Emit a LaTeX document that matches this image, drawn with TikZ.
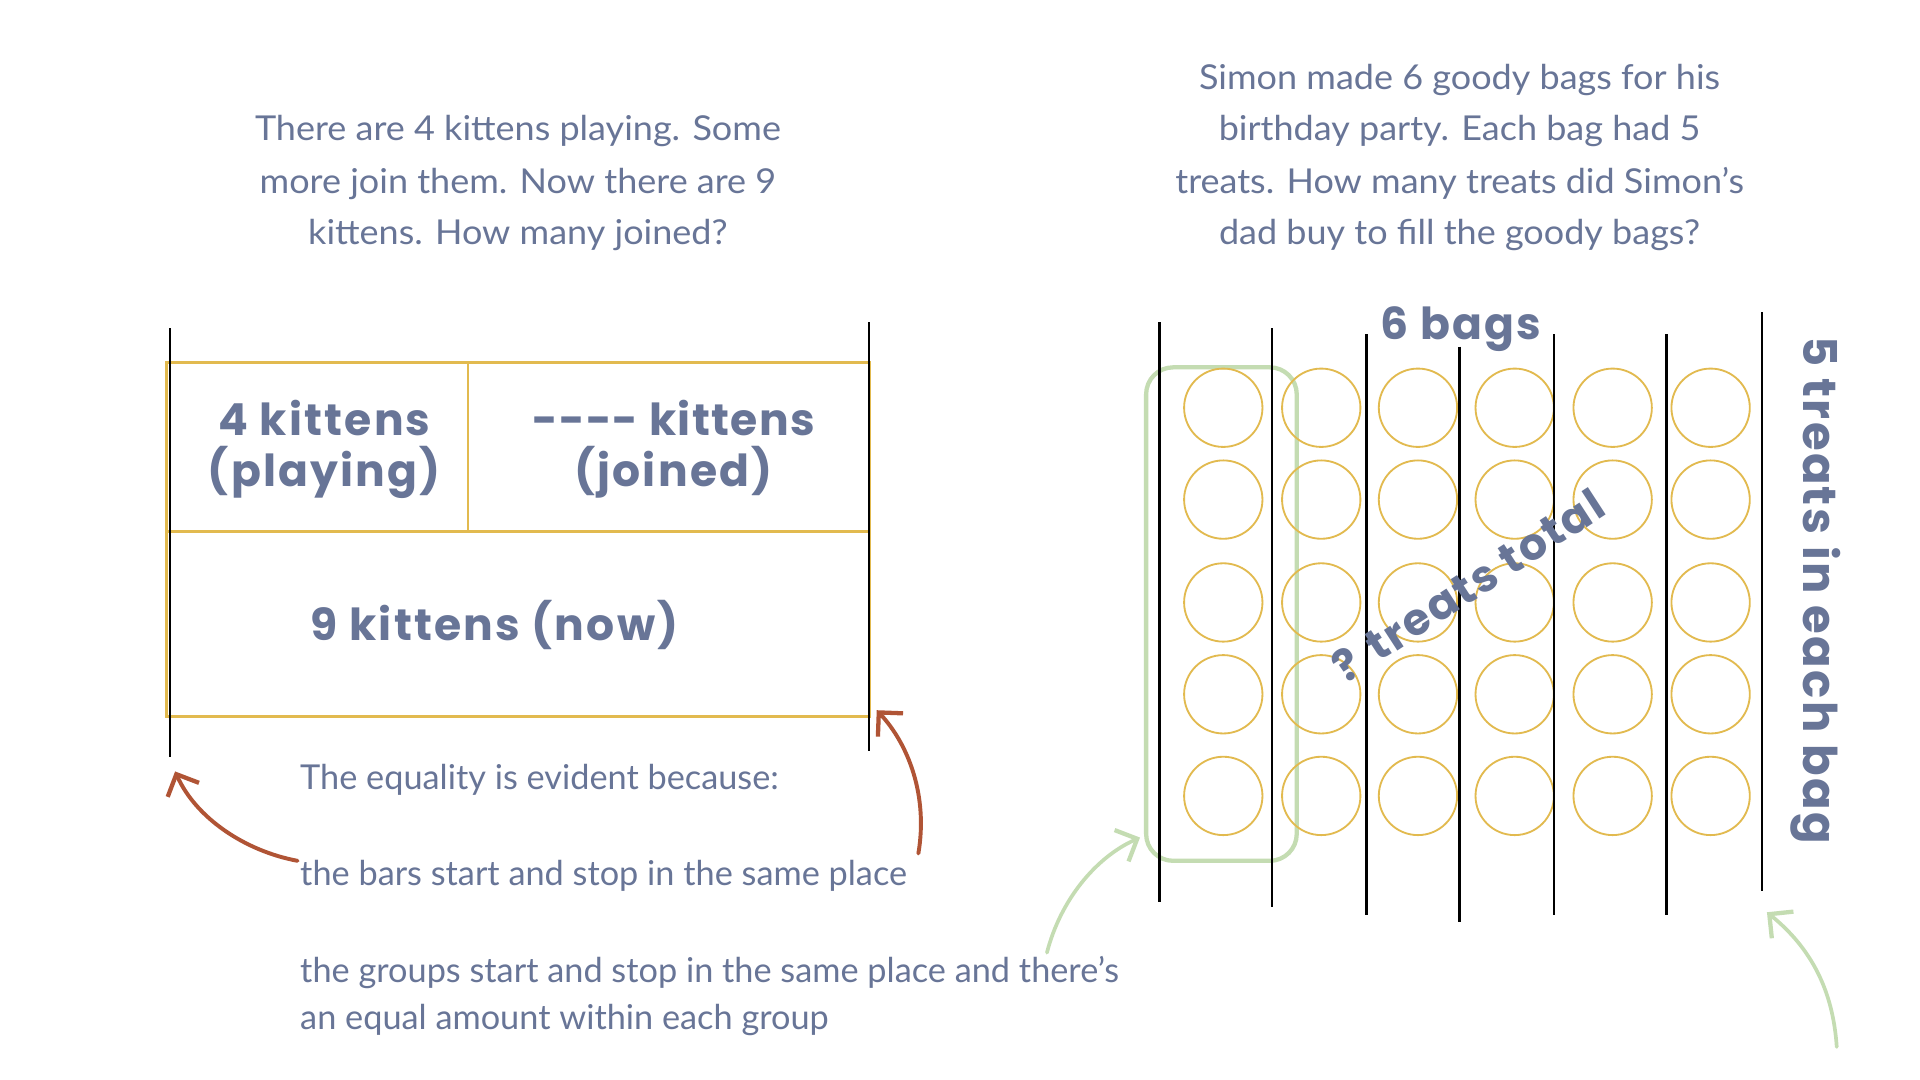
\documentclass[tikz,border=0pt]{standalone}
\usepackage{fontspec}
\setmainfont{Lato}
\newfontfamily\bodyfont{Lato}[FakeStretch=1.05]
\newfontfamily\notefont{Lato}[FakeStretch=1.0]
\newfontfamily\labfont{Poppins}[LetterSpace=5]
\newfontfamily\labfontb{Poppins}[LetterSpace=3]
\usetikzlibrary{arrows.meta}
\definecolor{ink}{HTML}{687597}
\definecolor{gold}{HTML}{E2BA4F}
\definecolor{rust}{HTML}{B05435}
\definecolor{sage}{HTML}{C4DCB2}
\begin{document}
\begin{tikzpicture}[x=1pt,y=-1pt,
  body/.style={font=\bodyfont\fontsize{28}{42}\selectfont, text=ink, inner sep=0, anchor=base},
  note/.style={font=\notefont\fontsize{28}{40}\selectfont, text=ink, inner sep=0, anchor=base west},
  lab/.style={font=\labfont\bfseries\fontsize{36}{42}\selectfont, text=ink, inner sep=0, anchor=base},
  goldline/.style={draw=gold, line width=2.6pt},
  thinbar/.style={draw=black, line width=1.6pt},
  bagline/.style={draw=black, line width=2pt},
  treat/.style={circle, draw=gold, line width=1.5pt, minimum size=64pt, inner sep=0},
  rarrow/.style={draw=rust, line width=3.2pt, line cap=round, -{Straight Barb[length=14pt,width=28pt,line width=3.5pt]}},
  garrow/.style={draw=sage, line width=3pt, line cap=round, -{Straight Barb[length=14pt,width=28pt,line width=3.5pt]}}
]
\useasboundingbox[fill=white] (0,0) rectangle (1568,882);

% ---- left question
\node[body] (q1) at (423,115) {There are 4 kittens playing. Some};
\node[body] (q2) at (423,158) {more join them. Now there are 9};
\node[body] (q3) at (423,200) {kittens. How many joined?};

% ---- right question
\node[body] (s1) at (1192,73) {Simon made 6 goody bags for his};
\node[body] (s2) at (1192,115) {birthday party. Each bag had 5};
\node[body] (s3) at (1192,158) {treats. How many treats did Simon’s};
\node[body] (s4) at (1192,200) {dad buy to fill the goody bags?};

% ---- bar model
\draw[goldline] (136,296) rectangle (710,585);
\draw[goldline] (136,434) -- (710,434);
\draw[draw=gold, line width=2pt] (382,296) -- (382,434);
\draw[thinbar] (139,268) -- (139,618);
\draw[thinbar] (710,263) -- (710,613);
\coordinate (barL) at (143,630);
\coordinate (barR) at (716,580);

\node[lab] (k1) at (265,356) {4 kittens};
\node[lab] (k2) at (265,397) {(playing)};
\node[lab, font=\labfontb\bfseries\fontsize{36}{42}\selectfont] (j1) at (550,356) {---- kittens};
\node[lab] (j2) at (550,397) {(joined)};
\node[lab] (n1) at (404,523) {9 kittens (now)};

% ---- notes
\node[note] (e1) at (245,645) {The equality is evident because:};
\node[note] (e2) at (245,723) {the bars start and stop in the same place};
\node[note] (e3) at (245,802) {the groups start and stop in the same place and there’s};
\node[note] (e4) at (245,841) {an equal amount within each group};

\coordinate (rs1) at (243,703);
\coordinate (rs2) at (750,697);
\draw[rarrow] (rs1) .. controls (200,695) and (160,668) .. (barL);
\draw[rarrow] (rs2) .. controls (758,650) and (742,608) .. (barR);

% ---- array model
\draw[draw=sage, line width=3.5pt, rounded corners=22pt] (936,300) rectangle (1059,703);
\foreach \cx [count=\i] in {999,1079,1158,1237,1317,1397}{
  \foreach \cy [count=\j] in {333,408,492,567,650}{
    \node[treat] (c\i-\j) at (\cx,\cy) {};
  }
}
\draw[bagline] (947,263) -- (947,737);
\draw[bagline] (1039,268) -- (1039,741);
\draw[bagline] (1116,273) -- (1116,747);
\draw[bagline] (1192,283) -- (1192,753);
\draw[bagline] (1269,273) -- (1269,747);
\draw[bagline] (1361,273) -- (1361,747);
\draw[bagline] (1439,255) -- (1439,728);

\node[lab] (bags) at (1193,277) {6 bags};
\node[lab, anchor=center, rotate=-90, font=\labfont\bfseries\fontsize{38}{42}\selectfont] (each) at (1483,482) {5 treats in each bag};
\node[lab, anchor=center, rotate=33] (tot) at (1199,478) {? treats total};

\coordinate (gs1) at (855,778);
\coordinate (gt1) at (931,684);
\coordinate (gs2) at (1500,855);
\coordinate (gt2) at (1443,745);
\draw[garrow] (gs1) .. controls (866,735) and (895,700) .. (gt1);
\draw[garrow] (gs2) .. controls (1497,810) and (1480,775) .. (gt2);
\end{tikzpicture}
\end{document}
